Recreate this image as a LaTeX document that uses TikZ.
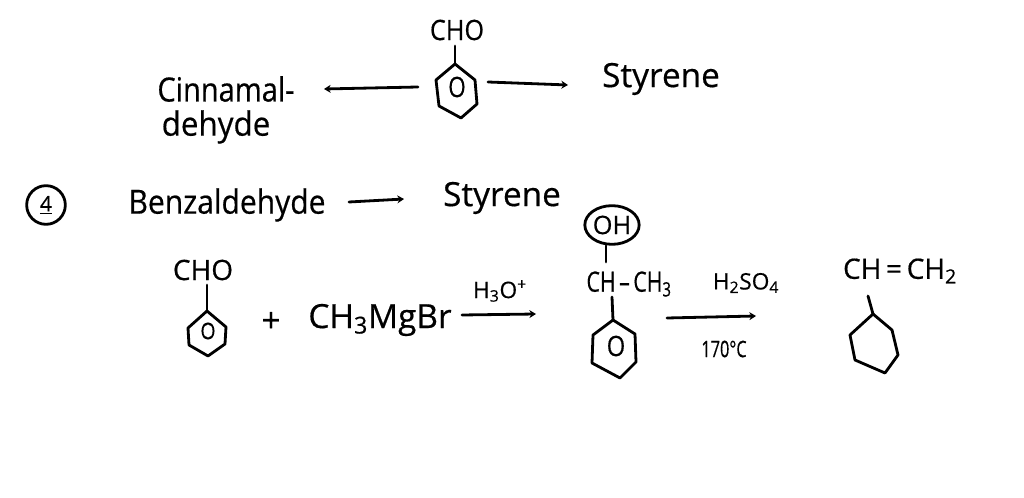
\documentclass[tikz,border=0pt]{standalone}
\usepackage{fontspec}
\setmainfont{Open Sans}[UprightFeatures={FakeBold=0.5}]
\usetikzlibrary{arrows.meta,shapes.geometric}
\newcommand{\fs}[1]{\fontsize{#1}{#1}\selectfont}
\newcommand{\nar}[2]{\scalebox{#1}[1]{#2}}
\tikzset{
  ink/.style={draw=black,line width=2.1pt,line cap=round,line join=round},
  rxn/.style={ink,-{Stealth[length=5pt,width=6pt]}},
  lbl/.style={inner sep=0pt,outer sep=0pt,text=black,anchor=center},
  big/.style={lbl,font=\fs{25}},
  mid/.style={lbl,font=\fs{21}},
  small/.style={lbl,font=\fs{17}}
}
\begin{document}
\begin{tikzpicture}[x=0.75pt,y=-0.75pt]
\useasboundingbox (0,0) rectangle (1024,498);
\fill[white] (0,0) rectangle (1024,498);
% top scheme
\node[mid] (cho1) at (457,30) {\nar{0.9}{CHO}};
\node[big] (cinn) at (226,89) {\nar{0.87}{Cinnamal-}};
\node[big] (deh) at (216,127) {\nar{0.94}{dehyde}};
\node[big] (sty1) at (661,79) {Styrene};
\node[mid] (o1) at (457,87) {\nar{0.8}{O}};
\coordinate (r1a) at (455,64);
\coordinate (r1b) at (475,80);
\coordinate (r1c) at (477,104);
\coordinate (r1d) at (461,118);
\coordinate (r1e) at (439,106);
\coordinate (r1f) at (436,80);
\draw[ink] (r1a)--(r1b)--(r1c)--(r1d)--(r1e)--(r1f)--cycle;
\coordinate (b1) at (455,46);
\draw[ink] (b1)--(r1a);
\coordinate (al) at (418,87);
\coordinate (ale) at (324,89);
\draw[rxn] (al)--(ale);
\coordinate (ar) at (488,82);
\coordinate (are) at (568,85);
\draw[rxn] (ar)--(are);
% second line
\node[draw=black,line width=2.1pt,circle,minimum size=29pt,inner sep=0pt,font=\fs{16}] (four) at (46,205) {\underline{4}};
\node[big] (benz) at (227,205) {\nar{0.9}{Benzaldehyde}};
\node[big] (sty2) at (502,198) {Styrene};
\coordinate (a2) at (349,202);
\coordinate (a2e) at (404,199);
\draw[rxn] (a2)--(a2e);
% third line
\node[mid] (cho2) at (203,270) {CHO};
\coordinate (b2) at (207,285);
\coordinate (r2a) at (207,311);
\coordinate (r2b) at (226,327);
\coordinate (r2c) at (225,344);
\coordinate (r2d) at (208,356);
\coordinate (r2e) at (189,345);
\coordinate (r2f) at (188,328);
\draw[ink] (b2)--(r2a);
\draw[ink] (r2a)--(r2b)--(r2c)--(r2d)--(r2e)--(r2f)--cycle;
\node[small] (o2) at (208,331) {\nar{0.85}{O}};
\node[big] (plus) at (271,322) {+};
\node[big] (grig) at (380,320) {CH\textsubscript{3}MgBr};
\node[small] (h3o) at (500,291) {H\textsubscript{3}O\textsuperscript{+}};
\coordinate (a3) at (462,315);
\coordinate (a3e) at (536,314);
\draw[rxn] (a3)--(a3e);
\node[draw=black,line width=2.1pt,ellipse,minimum width=40pt,minimum height=29pt,inner sep=0pt,font=\fs{19}] (oh) at (612,225) {OH};
\node[mid] (chch) at (629,284) {\nar{0.76}{CH\,–\,CH\textsubscript{3}}};
\node[small] (hso) at (746,283) {H\textsubscript{2}SO\textsubscript{4}};
\coordinate (b3) at (606,262);
\draw[ink] (oh.south -| b3)--(b3);
\coordinate (b4) at (612,297);
\coordinate (r3a) at (613,320);
\coordinate (r3b) at (635,334);
\coordinate (r3c) at (636,362);
\coordinate (r3d) at (620,378);
\coordinate (r3e) at (592,363);
\coordinate (r3f) at (593,335);
\draw[ink] (b4)--(r3a);
\draw[ink] (r3a)--(r3b)--(r3c)--(r3d)--(r3e)--(r3f)--cycle;
\node[mid] (o3) at (616,346) {\nar{0.85}{O}};
\coordinate (a4) at (667,318);
\coordinate (a4e) at (756,316);
\draw[rxn] (a4)--(a4e);
\node[small] (temp) at (724,349) {\nar{0.72}{170°C}};
\node[mid] (vin) at (900,271) {CH\,=\,CH\textsubscript{2}};
\coordinate (b5) at (868,296);
\coordinate (r4a) at (873,314);
\coordinate (r4b) at (892,330);
\coordinate (r4c) at (898,355);
\coordinate (r4d) at (885,373);
\coordinate (r4e) at (855,360);
\coordinate (r4f) at (850,335);
\draw[ink] (b5)--(r4a);
\draw[ink] (r4a)--(r4b)--(r4c)--(r4d)--(r4e)--(r4f)--cycle;
\end{tikzpicture}
\end{document}
